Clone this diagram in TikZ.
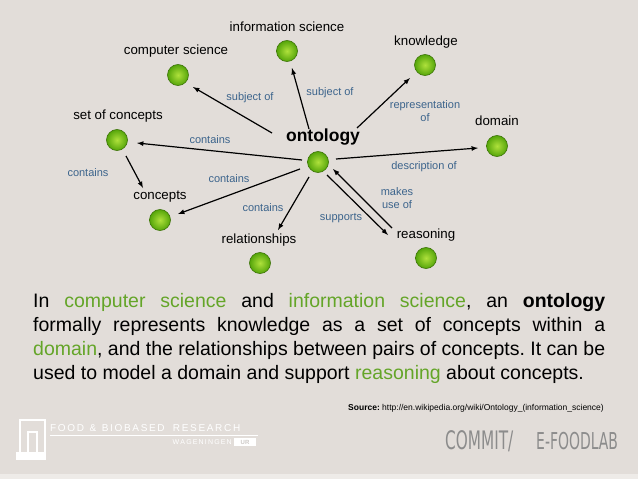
\documentclass[tikz,border=0pt]{standalone}
\usepackage{fontspec}
\setmainfont{Liberation Sans}
\newfontfamily\condfont{DejaVu Sans Condensed}
\definecolor{bg}{RGB}{226,221,217}
\definecolor{lbl}{RGB}{60,100,140}
\definecolor{grnin}{RGB}{175,225,60}
\definecolor{grnout}{RGB}{85,165,10}
\definecolor{gtxt}{RGB}{100,165,40}
\frenchspacing
\begin{document}
\begin{tikzpicture}[x=1pt,y=-1pt,
  ball/.style={circle,minimum size=21pt,inner sep=0pt,draw=grnout!70!black,line width=0.6pt,inner color=grnin,outer color=grnout},
  nmlbl/.style={font=\fontsize{13.3}{15}\selectfont,inner sep=0pt},
  rellbl/.style={font=\fontsize{11}{12.5}\selectfont,text=lbl,inner sep=0pt,align=center},
  arr/.style={-latex,line width=1.2pt}]
\fill[bg] (0,0) rectangle (638,479);
\fill[bg!60!white] (0,474) rectangle (638,479);
\useasboundingbox (0,0) rectangle (638,479);
% nodes
\node[ball] (ont) at (318,162) {};
\node[font=\bfseries\fontsize{17.5}{19}\selectfont,inner sep=0pt] (ontl) at (323,137) {ontology};
\node[ball] (is) at (287,51) {};  \node[nmlbl] (isl) at (287,27) {information science};
\node[ball] (cs) at (178,75) {};  \node[nmlbl] (csl) at (176,51) {computer science};
\node[ball] (kn) at (425,65) {};  \node[nmlbl] (knl) at (426,42) {knowledge};
\node[ball] (dm) at (497,146) {}; \node[nmlbl] (dml) at (497,121) {domain};
\node[ball] (sc) at (117,140) {}; \node[nmlbl] (scl) at (118,116) {set of concepts};
\node[ball] (co) at (160,220) {}; \node[nmlbl] (col) at (160,197) {concepts};
\node[ball] (re) at (260,263) {}; \node[nmlbl] (rel) at (259,240) {relationships};
\node[ball] (rs) at (426,258) {}; \node[nmlbl] (rsl) at (426,235) {reasoning};
% endpoints
\coordinate (a1) at (272,133); \coordinate (b1) at (193,87);
\coordinate (a2) at (309,129); \coordinate (b2) at (292,68);
\coordinate (a3) at (357,128); \coordinate (b3) at (410,78);
\coordinate (a4) at (336,159); \coordinate (b4) at (478,148);
\coordinate (a5) at (327,175); \coordinate (b5) at (388,235);
\coordinate (a6) at (392,228); \coordinate (b6) at (333,169);
\coordinate (a7) at (309,177); \coordinate (b7) at (278,230);
\coordinate (a8) at (300,169); \coordinate (b8) at (178,214);
\coordinate (a9) at (302,160); \coordinate (b9) at (137,143);
\coordinate (a10) at (126,156); \coordinate (b10) at (143,188);
\foreach \i in {1,...,10} \draw[arr] (a\i) -- (b\i);
% relation labels
\node[rellbl] at (250,98) {subject of};
\node[rellbl] at (330,93) {subject of};
\node[rellbl] at (425,111) {representation\\of};
\node[rellbl] at (424,167) {description of};
\node[rellbl] at (397,198) {makes\\use of};
\node[rellbl] at (341,218) {supports};
\node[rellbl] at (210,140) {contains};
\node[rellbl] at (88,173) {contains};
\node[rellbl] at (229,179) {contains};
\node[rellbl] at (263,208) {contains};
% paragraph
\node[anchor=north west,inner sep=0pt,text width=572pt,align=justify,
  font=\fontsize{19.5}{24}\selectfont] (para) at (33,293)
 {\hyphenpenalty=10000 In \textcolor{gtxt}{computer science} and \textcolor{gtxt}{information science}, an \textbf{ontology}\linebreak formally represents knowledge as a set of concepts within a\linebreak \textcolor{gtxt}{domain}, and the relationships between pairs of concepts. It can be\linebreak used to model a domain and support \textcolor{gtxt}{reasoning} about concepts.};
\node[anchor=east,inner sep=0pt,font=\fontsize{8.5}{9}\selectfont] (src) at (604,408)
 {\textbf{Source:} http://en.wikipedia.org/wiki/Ontology\_(information\_science)};
% logos
\draw[white,line width=1.5pt] (20,456) -- (20,420) -- (45,420) -- (45,456);
\fill[white] (16,452) rectangle (46,460);
\draw[white,line width=1.2pt] (28,452) -- (28,432) -- (37,432) -- (37,452);
\node[anchor=west,text=white,inner sep=0pt,font=\fontsize{10}{11}\selectfont] (fbr) at (50,428) {F\,O\,O\,D \ \& \ B\,I\,O\,B\,A\,S\,E\,D \ \ R\,E\,S\,E\,A\,R\,C\,H};
\draw[white,line width=0.5pt] (50,435) -- (258,435);
\node[anchor=east,text=white,inner sep=0pt,font=\fontsize{7}{8}\selectfont] (wag) at (232,442) {W\,A\,G\,E\,N\,I\,N\,G\,E\,N};
\fill[white] (234,438) rectangle (256,446);
\node[text=bg!80!gray,inner sep=0pt,font=\bfseries\fontsize{6}{7}\selectfont] at (245,442) {UR};
\node[anchor=west,text=gray!90,inner sep=0pt,yscale=1.5,font=\condfont\fontsize{17}{20}\selectfont] (cm) at (445,441) {COMMIT/};
\node[anchor=west,text=gray!90,inner sep=0pt,yscale=1.5,font=\condfont\fontsize{15.5}{18}\selectfont] (ef) at (536,441) {E-FOODLAB};
\end{tikzpicture}
\end{document}
